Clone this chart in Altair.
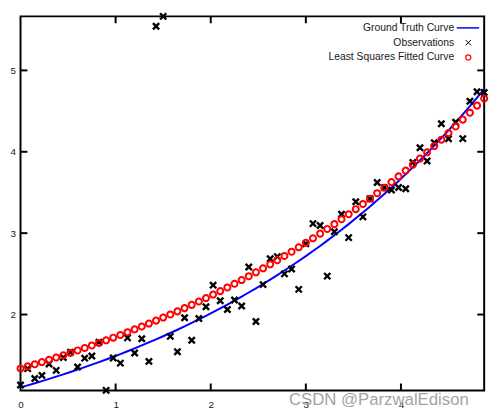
import altair as alt
import pandas as pd

# ---- data ----
x_vals = [0.0, 0.075, 0.15, 0.225, 0.3, 0.375, 0.45, 0.525, 0.6, 0.675,
          0.75, 0.825, 0.9, 0.975, 1.05, 1.125, 1.2, 1.275, 1.35, 1.425,
          1.5, 1.575, 1.65, 1.725, 1.8, 1.875, 1.95, 2.025, 2.1, 2.175,
          2.25, 2.325, 2.4, 2.475, 2.55, 2.625, 2.7, 2.775, 2.85, 2.925,
          3.0, 3.075, 3.15, 3.225, 3.3, 3.375, 3.45, 3.525, 3.6, 3.675,
          3.75, 3.825, 3.9, 3.975, 4.05, 4.125, 4.2, 4.275, 4.35, 4.425,
          4.5, 4.575, 4.65, 4.725, 4.8, 4.875]

observations = [1.134, 1.335, 1.214, 1.252, 1.392, 1.314, 1.473, 1.536, 1.356, 1.464,
                1.490, 1.659, 1.068, 1.465, 1.403, 1.713, 1.527, 1.703, 1.424, 5.543,
                5.664, 1.732, 1.543, 1.960, 1.685, 1.952, 2.095, 2.361, 2.169, 2.062,
                2.179, 2.104, 2.584, 1.914, 2.368, 2.686, 2.712, 2.500, 2.559, 2.309,
                2.870, 3.117, 3.095, 2.472, 3.017, 3.232, 2.945, 3.385, 3.200, 3.423,
                3.622, 3.559, 3.531, 3.562, 3.545, 3.868, 4.050, 3.886, 4.111, 4.345,
                4.161, 4.363, 4.162, 4.620, 4.737, 4.728]

ground_truth = [1.105, 1.130, 1.156, 1.182, 1.209, 1.237, 1.265, 1.294, 1.323, 1.353,
                1.384, 1.416, 1.448, 1.481, 1.514, 1.549, 1.584, 1.620, 1.657, 1.695,
                1.733, 1.773, 1.813, 1.854, 1.897, 1.940, 1.984, 2.029, 2.075, 2.122,
                2.171, 2.220, 2.271, 2.322, 2.375, 2.429, 2.484, 2.541, 2.599, 2.658,
                2.718, 2.780, 2.843, 2.908, 2.974, 3.042, 3.111, 3.182, 3.254, 3.328,
                3.404, 3.482, 3.561, 3.642, 3.725, 3.810, 3.896, 3.985, 4.076, 4.168,
                4.263, 4.360, 4.459, 4.561, 4.665, 4.771]

fitted = [1.337, 1.363, 1.389, 1.416, 1.444, 1.472, 1.500, 1.529, 1.559, 1.589,
          1.620, 1.651, 1.683, 1.716, 1.749, 1.783, 1.818, 1.853, 1.889, 1.925,
          1.963, 2.001, 2.039, 2.079, 2.119, 2.160, 2.202, 2.245, 2.288, 2.333,
          2.378, 2.424, 2.471, 2.519, 2.568, 2.617, 2.668, 2.720, 2.772, 2.826,
          2.881, 2.937, 2.994, 3.052, 3.111, 3.171, 3.233, 3.295, 3.359, 3.424,
          3.491, 3.558, 3.627, 3.698, 3.769, 3.842, 3.917, 3.993, 4.070, 4.149,
          4.229, 4.311, 4.395, 4.480, 4.567, 4.655]

x_ticks = [1, 2, 3, 4]
y_ticks = [2, 3, 4, 5]
x_labels = [0, 1, 2, 3, 4]
legend_labels = ["Ground Truth Curve", "Observations", "Least Squares Fitted Curve"]
watermark = "CSDN @ParzwalEdison"

W, H = 470.4, 379.5
FONT = "Liberation Sans"

df = pd.DataFrame({"x": x_vals, "obs": observations, "truth": ground_truth, "fit": fitted})
xt = pd.DataFrame({"t": x_ticks})
yt = pd.DataFrame({"t": y_ticks})

x_scale = alt.Scale(domain=[0, 4.875], nice=False, zero=False)
y_scale = alt.Scale(domain=[1.067574, 5.664015], nice=False, zero=False)

x_axis = alt.Axis(title=None, values=x_labels, format="d", domain=False, ticks=False,
                  tickSize=0, grid=False, labelFontSize=10, labelFont=FONT,
                  labelColor="#222222", labelPadding=9, labelFlush=False)
y_axis = alt.Axis(title=None, values=y_ticks, format="d", domain=False, ticks=False,
                  tickSize=0, grid=False, labelFontSize=10, labelFont=FONT,
                  labelColor="#222222", labelPadding=5, labelFlush=False)

def X(field):
    return alt.X(f"{field}:Q", scale=x_scale, axis=x_axis)

def Y(field):
    return alt.Y(f"{field}:Q", scale=y_scale, axis=y_axis)

cross = "M -1 -1 L 1 1 M -1 1 L 1 -1"

truth_line = alt.Chart(df).mark_line(color="#0000ff", strokeWidth=2).encode(
    x=X("x"), y=Y("truth"))

obs_pts = alt.Chart(df).mark_point(shape=cross, filled=False, color="black",
                                   strokeWidth=2.4, size=40, opacity=1).encode(
    x=X("x"), y=Y("obs"))

fit_pts = alt.Chart(df).mark_point(shape="circle", filled=False, color="#ff0000",
                                   strokeWidth=2, size=38, opacity=1).encode(
    x=X("x"), y=Y("fit"))

# inward ticks on all four sides
tick_b = alt.Chart(xt).mark_rule(color="black", strokeWidth=2).encode(
    x=X("t"), y=alt.value(H), y2=alt.value(H - 7))
tick_t = alt.Chart(xt).mark_rule(color="black", strokeWidth=2).encode(
    x=X("t"), y=alt.value(0), y2=alt.value(7))
tick_l = alt.Chart(yt).mark_rule(color="black", strokeWidth=2).encode(
    y=Y("t"), x=alt.value(0), x2=alt.value(7))
tick_r = alt.Chart(yt).mark_rule(color="black", strokeWidth=2).encode(
    y=Y("t"), x=alt.value(W), x2=alt.value(W - 7))

# legend (gnuplot style: text then sample)
leg_rows = [11.7, 26.7, 41.7]
leg_text = []
for lab, yy in zip(legend_labels, leg_rows):
    leg_text.append(
        alt.Chart(pd.DataFrame({"l": [lab]})).mark_text(
            align="right", baseline="middle", fontSize=10.5, font=FONT, color="#1a1a1a"
        ).encode(text="l:N", x=alt.value(440), y=alt.value(yy))
    )
leg_line = alt.Chart(pd.DataFrame({"l": [legend_labels[0]]})).mark_rule(
    color="#0000ff", strokeWidth=1.5).encode(
    x=alt.value(442.6), x2=alt.value(465.3), y=alt.value(leg_rows[0]))
leg_cross = alt.Chart(pd.DataFrame({"l": [legend_labels[1]]})).mark_point(
    shape=cross, filled=False, color="black", strokeWidth=1, size=30, opacity=1).encode(
    x=alt.value(454.3), y=alt.value(leg_rows[1]))
leg_circle = alt.Chart(pd.DataFrame({"l": [legend_labels[2]]})).mark_point(
    shape="circle", filled=False, color="#ff0000", strokeWidth=1.2, size=26, opacity=1).encode(
    x=alt.value(454.3), y=alt.value(leg_rows[2]))

wm = alt.Chart(pd.DataFrame({"w": [watermark]})).mark_text(
    align="left", baseline="middle", fontSize=17, font=FONT, color="#a3a3a3"
).encode(text="w:N", x=alt.value(272.3), y=alt.value(389.5))

chart = alt.layer(
    truth_line, obs_pts, fit_pts, tick_b, tick_t, tick_l, tick_r,
    *leg_text, leg_line, leg_cross, leg_circle, wm
).properties(
    width=W, height=H,
    autosize=alt.AutoSizeParams(type="none"),
    padding={"left": 12.7, "top": 5.5, "right": 12, "bottom": 25},
).configure(
    background="white"
).configure_view(
    stroke="black", strokeWidth=2
)

chart.save("out.html", embed_options={"renderer": "svg", "actions": False})
